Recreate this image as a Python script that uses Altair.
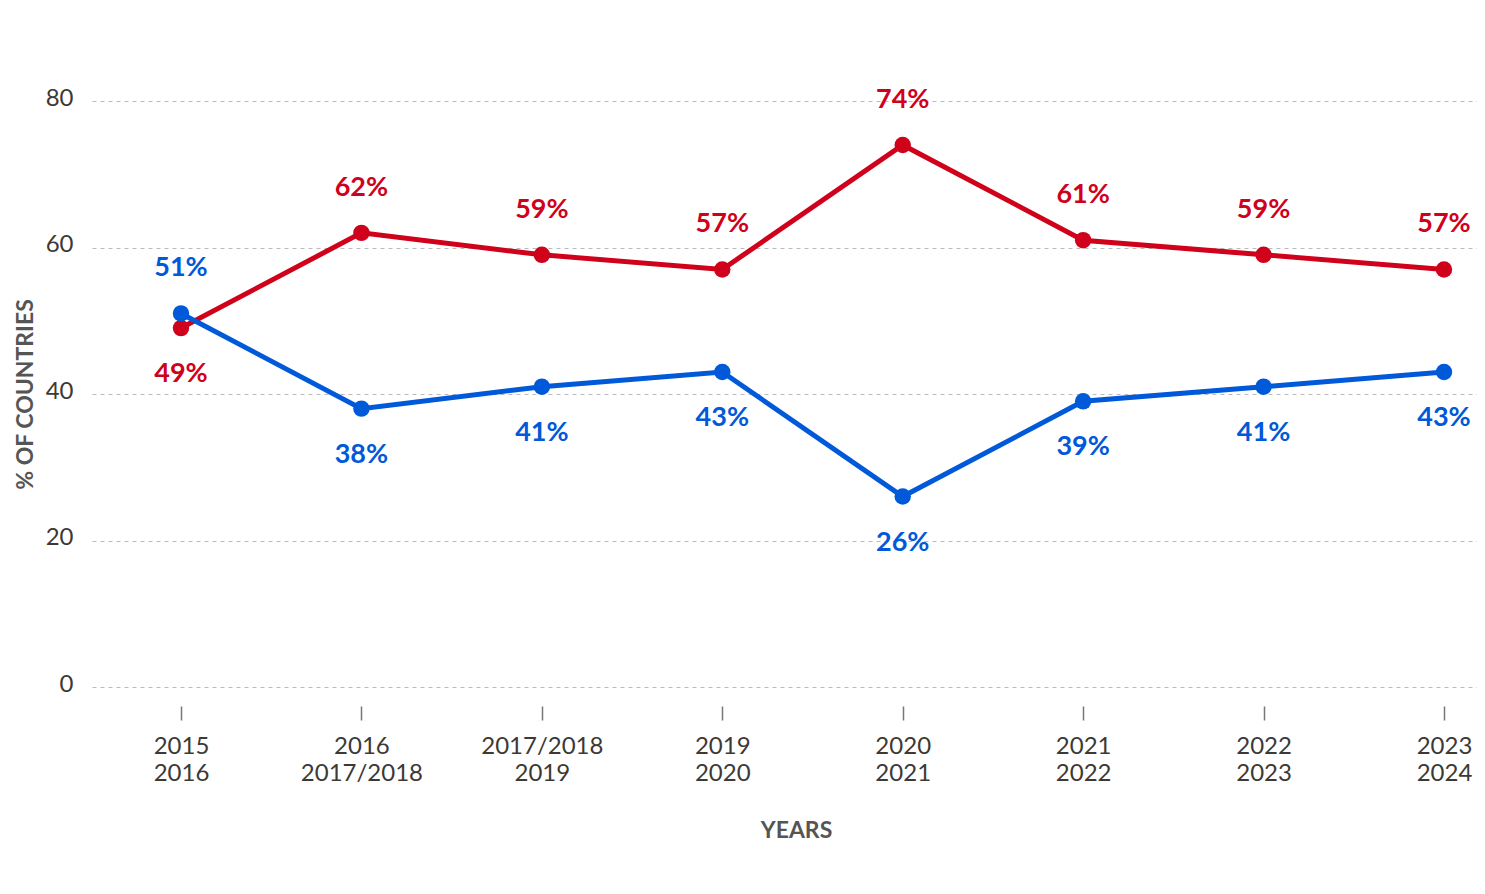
import json
import altair as alt
import pandas as pd

periods = ["2015\n2016", "2016\n2017/2018", "2017/2018\n2019", "2019\n2020",
           "2020\n2021", "2021\n2022", "2022\n2023", "2023\n2024"]
red_values = [49, 62, 59, 57, 74, 61, 59, 57]
blue_values = [51, 38, 41, 43, 26, 39, 41, 43]
series_names = ["red", "blue"]
colors = ["#d0011b", "#0059d9"]

rows = []
for i, p in enumerate(periods):
    r, b = red_values[i], blue_values[i]
    rows.append({"idx": i, "period": p, "series": "red", "value": r, "higher": r > b})
    rows.append({"idx": i, "period": p, "series": "blue", "value": b, "higher": b > r})
df = pd.DataFrame(rows)
df["label"] = df["value"].astype(str) + "%"

label_arr = "[" + ",".join(json.dumps(p) for p in periods) + "]"
step = (1444 - 181) / 7
xmin = -(181 - 92) / step
xmax = 7 + (1477 - 1444) / step

color_scale = alt.Scale(domain=series_names, range=colors)

x = alt.X("idx:Q", scale=alt.Scale(domain=[xmin, xmax], nice=False, zero=False),
          axis=alt.Axis(values=list(range(8)), grid=False, domain=False, offset=19,
                        tickSize=14, tickColor="#777", tickWidth=1.5,
                        labelExpr=f"split({label_arr}[datum.value], '\\n')",
                        labelFont="Lato", labelFontSize=24, labelColor="#3d3935",
                        labelLineHeight=27, labelPadding=14, labelBaseline="top",
                        title="YEARS", titleFont="Lato", titleFontSize=23,
                        titleFontWeight="bold", titleColor="#555", titlePadding=34,
                        titleX=704, titleAnchor="middle"))
y = alt.Y("value:Q", scale=alt.Scale(domain=[0, 80], nice=False),
          axis=alt.Axis(values=[0, 20, 40, 60, 80], domain=False, ticks=False,
                        gridDash=[4, 4], gridColor="#bbbbbb", gridWidth=1,
                        labelFont="Lato", labelFontSize=24, labelColor="#3d3935",
                        labelPadding=19, labelOffset=-3, title="% OF COUNTRIES",
                        titleFont="Lato", titleFontSize=23, titleFontWeight="bold",
                        titleColor="#555", titlePadding=8))

base = alt.Chart(df)
lines = base.mark_line(strokeWidth=5).encode(
    x=x, y=y, color=alt.Color("series:N", scale=color_scale, legend=None))
points = base.mark_point(filled=True, size=270, opacity=1).encode(
    x="idx:Q", y="value:Q", color=alt.Color("series:N", scale=color_scale, legend=None))
above = base.transform_filter("datum.higher").mark_text(
    font="Lato", fontSize=27, fontWeight="bold", dy=-45, baseline="middle").encode(
    x="idx:Q", y="value:Q", text="label:N",
    color=alt.Color("series:N", scale=color_scale, legend=None))
below = base.transform_filter("!datum.higher").mark_text(
    font="Lato", fontSize=27, fontWeight="bold", dy=46, baseline="middle").encode(
    x="idx:Q", y="value:Q", text="label:N",
    color=alt.Color("series:N", scale=color_scale, legend=None))

chart = alt.layer(lines, points, above, below).properties(
    width=1385, height=586,
    background="white",
    autosize=alt.AutoSizeParams(type="none"),
    padding={"left": 84, "top": 93, "right": 0, "bottom": 200},
).configure_view(stroke=None)

chart.save("out.html", embed_options={"renderer": "svg", "actions": False})
